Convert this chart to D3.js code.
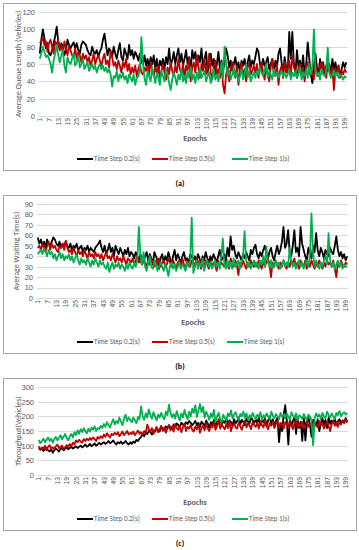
<!DOCTYPE html>
<html><head><meta charset="utf-8">
<script src="https://cdn.jsdelivr.net/npm/d3@7"></script>
<style>
html,body{margin:0;padding:0;background:#fff;}
svg{display:block;font-family:Carlito,'Liberation Sans Narrow','Liberation Sans',Arial,sans-serif;}
</style></head><body>
<svg id="c" width="359" height="550"></svg>
<script>
// ---------- DATA ----------
const epochs = d3.range(1, 201);
const tickLabels = epochs.filter(e => (e - 1) % 6 === 0);
const seriesNames = ["Time Step 0.2(s)", "Time Step 0.5(s)", "Time Step 1(s)"];
const seriesColors = ["#000000", "#c00000", "#00b050"];

const queueTicks = [0, 20, 40, 60, 80, 100, 120];
const waitTicks = [0, 10, 20, 30, 40, 50, 60, 70, 80, 90];
const throughTicks = [0, 50, 100, 150, 200, 250, 300];

// (a) Average Queue Length
const queue02 = [72,88,100,90,78,84,72,70,76,84,92,103,86,76,84,80,70,76,88,82,
78,82,85,78,84,76,72,82,86,84,82,76,72,70,80,74,72,76,68,74,
78,88,95,82,70,78,74,68,80,72,66,76,84,68,64,78,72,66,82,70,
76,66,74,70,64,72,62,60,70,58,66,56,68,60,70,54,66,50,64,58,
66,54,68,60,78,58,64,74,60,70,78,62,72,58,66,76,60,68,54,76,
66,74,58,70,62,78,56,66,74,50,62,72,58,66,48,60,74,54,64,52,
62,78,70,56,64,52,60,68,54,62,50,64,58,66,54,62,70,56,64,60,
68,78,74,60,52,66,58,62,68,54,60,66,50,64,56,72,78,62,48,68,
56,50,97,66,97,60,48,76,56,64,52,70,48,60,85,66,48,38,58,72,
56,48,66,52,62,46,58,52,60,48,66,54,62,50,58,46,54,62,56,62];
const queue05 = [84,86,90,82,86,74,84,88,80,72,86,82,88,76,82,72,86,78,70,80,
76,70,68,78,66,74,70,62,72,66,70,62,68,58,64,72,60,66,70,64,
58,66,72,60,64,56,76,68,58,62,54,64,58,50,62,56,66,52,60,48,
56,50,58,46,54,60,50,48,56,52,58,48,62,54,46,56,50,58,44,52,
60,50,42,56,48,62,52,46,58,50,66,54,48,60,44,58,52,66,40,56,
62,50,70,56,44,60,52,66,48,56,72,50,42,58,64,48,54,44,58,36,
26,48,56,40,54,62,50,44,58,36,52,60,46,54,40,56,62,48,52,58,
50,60,44,56,62,50,42,58,48,40,56,66,50,46,60,36,52,58,44,62,
50,56,64,46,70,58,52,44,56,60,48,54,40,58,62,48,56,50,42,60,
52,46,58,62,50,56,44,60,52,48,56,30,54,50,58,44,52,48,54,50];
const queue1 = [66,72,80,74,68,70,66,60,50,64,72,82,70,62,70,76,58,50,68,62,
60,66,72,58,62,70,56,60,66,54,58,62,52,56,60,54,58,50,56,60,
54,58,52,56,50,54,48,34,46,44,52,40,48,44,50,42,46,38,48,44,
40,48,36,44,46,54,91,60,44,36,52,46,40,56,48,38,50,44,36,52,
46,40,54,48,38,30,42,50,44,36,48,42,54,40,46,38,52,44,56,42,
48,38,50,42,56,44,48,52,40,46,50,38,44,54,42,48,40,50,62,44,
80,60,46,52,42,48,56,44,50,40,46,54,42,48,60,44,52,40,46,50,
44,52,48,56,50,46,54,60,44,52,48,42,54,46,50,44,48,52,46,50,
44,48,54,42,50,46,52,44,48,56,42,50,46,54,44,60,48,56,100,52,
46,50,42,54,48,46,52,79,50,44,48,52,46,50,44,48,46,42,46,44];

// (b) Average Waiting Time
const wait02 = [58,52,56,50,54,48,56,52,50,54,58,56,52,50,54,48,52,50,54,50,
48,52,46,50,48,52,46,48,50,44,48,46,50,44,48,46,44,48,50,52,
55,48,44,50,42,46,52,44,48,40,50,46,42,48,44,40,46,42,48,40,
44,42,38,44,40,36,42,38,34,40,44,36,42,38,32,44,40,36,28,38,
42,34,40,36,44,38,32,40,46,36,42,38,34,40,44,36,38,32,42,40,
36,40,34,42,38,32,40,36,44,38,34,40,36,42,38,34,40,46,36,38,
42,36,48,40,59,46,50,42,38,44,40,36,42,38,44,40,36,46,42,48,
51,42,38,44,40,46,50,42,38,44,48,40,36,44,50,42,46,54,68,48,
52,65,44,40,50,65,44,48,40,68,52,46,40,36,48,42,38,50,44,62,
46,40,48,44,38,46,42,40,48,44,42,50,59,46,40,44,38,42,36,40];
const wait05 = [48,50,46,52,48,44,50,54,46,52,48,50,46,44,50,48,52,46,55,48,
44,46,42,48,44,40,46,42,44,40,46,42,38,44,40,42,38,44,40,42,
38,42,36,40,44,38,40,36,42,38,34,40,36,38,34,40,36,32,38,36,
34,38,32,36,40,34,36,32,38,34,30,36,32,38,34,30,36,32,38,30,
34,36,30,32,38,34,30,36,32,28,34,36,30,38,32,28,36,34,30,36,
34,30,38,32,36,28,34,30,36,32,28,36,30,34,32,26,36,30,34,32,
30,36,32,28,38,34,30,36,32,22,34,30,36,32,28,34,30,36,32,30,
34,30,36,32,28,36,30,34,38,32,20,34,30,36,32,28,34,30,36,32,
28,34,30,36,32,38,30,34,28,36,32,30,36,28,34,30,36,32,28,34,
30,36,32,28,34,30,36,32,34,30,36,28,20,34,30,36,32,30,34,32];
const wait1 = [42,44,46,42,48,44,40,46,42,44,38,42,36,40,44,38,42,36,40,38,
42,36,40,34,38,42,36,32,38,34,36,32,38,34,30,36,32,38,34,30,
36,32,34,30,28,34,25,30,34,28,32,30,34,28,32,30,26,32,28,34,
30,28,34,30,36,68,40,32,44,30,26,34,40,30,28,36,32,26,30,34,
30,26,32,28,21,30,34,28,32,26,30,34,28,32,30,26,34,30,36,77,
24,30,36,28,34,30,38,26,32,36,30,34,28,32,36,30,34,28,40,57,
32,28,36,30,34,28,38,30,32,36,28,34,40,64,36,30,34,28,32,36,
30,34,28,36,32,40,30,49,34,30,36,28,32,36,30,34,28,32,36,30,
34,30,48,36,30,34,28,32,36,30,34,28,32,36,30,40,81,44,30,36,
32,28,34,30,36,40,32,62,36,30,34,28,32,36,30,34,28,32,30,30];

// (c) Throughput
const through02 = [92,86,90,82,88,92,84,80,88,76,84,90,86,80,88,92,84,90,94,88,
92,96,90,94,98,92,96,100,94,98,104,96,100,106,98,102,108,100,104,110,
104,108,112,106,110,116,108,112,118,110,104,112,108,114,106,110,116,108,104,112,
106,114,110,120,116,124,130,138,132,144,140,150,146,138,152,148,160,154,148,164,
158,152,166,160,170,162,156,172,166,176,170,164,178,172,168,180,174,184,178,170,
176,184,170,178,164,182,174,168,186,176,160,180,172,188,166,182,176,190,170,184,
178,194,172,186,180,168,190,176,184,196,174,188,180,170,192,182,176,198,186,178,
190,176,196,170,188,180,194,166,186,200,172,190,168,184,196,112,176,150,204,238,
186,104,192,168,184,198,140,190,160,182,116,194,118,176,196,170,130,188,180,168,
190,150,176,194,172,188,160,196,174,186,178,192,170,184,190,176,186,180,194,182];
const through05 = [98,86,94,90,100,84,96,102,90,94,88,98,104,92,96,100,88,94,102,96,
106,98,110,104,118,112,120,114,110,122,116,124,118,126,120,128,122,116,130,124,
132,126,138,130,142,134,128,140,136,144,138,146,132,140,148,136,142,150,138,144,
140,148,136,144,152,140,146,138,150,144,172,156,148,160,140,152,164,146,156,168,
150,162,144,158,170,152,166,148,174,160,154,168,146,162,176,150,164,158,170,154,
148,166,156,172,144,160,168,152,176,158,150,170,162,180,154,166,190,158,172,164,
156,174,160,182,150,168,176,162,158,180,166,154,172,186,162,176,168,156,182,170,
164,178,158,184,170,162,190,166,156,176,168,182,160,174,186,162,178,170,158,180,
172,164,184,168,156,178,190,162,174,166,180,158,172,186,164,176,168,154,178,170,
162,184,170,176,158,172,180,166,150,174,184,168,178,164,180,172,186,176,190,178];
const through1 = [120,108,116,124,112,120,128,116,124,110,122,130,118,126,136,122,130,140,126,118,
132,140,128,146,136,152,140,156,146,160,150,142,158,148,162,154,166,150,160,156,
168,160,174,164,180,170,162,178,190,172,184,176,196,182,170,192,206,184,196,188,
180,196,186,176,198,190,234,200,188,210,196,224,204,192,214,200,186,206,196,212,
198,190,216,204,240,212,196,208,192,218,200,186,210,196,222,204,190,216,200,226,
212,238,198,220,242,214,232,196,216,204,188,210,196,222,180,200,212,190,178,206,
194,186,210,200,220,192,206,214,198,186,208,200,216,194,210,188,204,196,212,200,
190,206,198,214,186,204,196,210,200,188,216,202,194,208,200,190,212,198,206,194,
210,200,188,214,202,196,210,186,204,198,192,208,196,188,206,200,184,102,194,210,
198,206,190,212,200,194,216,204,196,210,200,190,212,204,218,200,208,214,206,212];

// ---------- DRAW ----------
const svg = d3.select("#c");

function drawPanel(cfg) {
  const g = svg.append("g");
  g.append("rect").attr("x", cfg.box[0] + 0.5).attr("y", cfg.box[1] + 0.5)
    .attr("width", cfg.box[2] - cfg.box[0]).attr("height", cfg.box[3] - cfg.box[1])
    .attr("fill", "#fff").attr("stroke", "#a6a6a6").attr("stroke-width", 1);

  const x = d3.scalePoint().domain(epochs).range([cfg.plot[0], cfg.plot[1]]).padding(0.5);
  const y = d3.scaleLinear().domain(cfg.domain).range([cfg.plot[3], cfg.plot[2]]);

  g.append("g").selectAll("line").data(cfg.ticks).join("line")
    .attr("x1", cfg.plot[0]).attr("x2", cfg.plot[1])
    .attr("y1", d => Math.round(y(d)) + 0.5).attr("y2", d => Math.round(y(d)) + 0.5)
    .attr("stroke", "#d9d9d9").attr("stroke-width", 1);

  const yAx = d3.axisLeft(y).tickValues(cfg.ticks).tickSize(0).tickPadding(0);
  const ya = g.append("g").attr("transform", `translate(${cfg.plot[0] - 4},0)`).call(yAx);
  ya.select(".domain").remove();
  ya.selectAll("text").attr("fill", "#595959").style("font-size", "7.5px").style("font-family", null);

  const xAx = d3.axisBottom(x).tickValues(tickLabels).tickSize(0).tickPadding(0);
  const xa = g.append("g").attr("transform", `translate(0,${cfg.plot[3] + 2})`).call(xAx);
  xa.select(".domain").remove();
  xa.selectAll("text").attr("fill", "#595959").style("font-size", "6.8px").style("font-family", null)
    .attr("text-anchor", "end").attr("dy", "0.32em").attr("dx", 0).attr("y", 0)
    .attr("transform", "rotate(-90)").attr("x", 0);

  g.append("text").attr("transform", `translate(${cfg.ytitleX},${(cfg.plot[2] + cfg.plot[3]) / 2}) rotate(-90)`)
    .attr("text-anchor", "middle").attr("dy", "0.35em")
    .attr("fill", "#595959").style("font-size", "8px").text(cfg.ytitle);

  g.append("text").attr("x", cfg.epochsX).attr("y", cfg.epochsY).attr("text-anchor", "middle")
    .attr("dy", "0.35em").attr("fill", "#595959").style("font-size", "8px").style("font-weight", "bold").text("Epochs");

  const line = d3.line().x((d, i) => x(epochs[i])).y(d => y(d));
  cfg.series.forEach((s, k) => {
    g.append("path").datum(s).attr("d", line).attr("fill", "none")
      .attr("stroke", seriesColors[k]).attr("stroke-width", 1.8).attr("stroke-linejoin", "round");
  });

  cfg.legendX.forEach((lx, k) => {
    g.append("line").attr("x1", lx).attr("x2", lx + 16).attr("y1", cfg.legendY).attr("y2", cfg.legendY)
      .attr("stroke", seriesColors[k]).attr("stroke-width", 2);
    g.append("text").attr("x", lx + 17).attr("y", cfg.legendY).attr("dy", "0.35em")
      .attr("fill", "#595959").style("font-size", "7px").text(seriesNames[k]);
  });

  svg.append("text").attr("x", 180).attr("y", cfg.captionY).attr("text-anchor", "middle").attr("dy", "0.35em")
    .attr("fill", "#000").style("font-size", "8px").style("font-weight", "bold").text(cfg.caption);
}

drawPanel({
  box: [3, 3, 355, 170], plot: [39, 347, 12, 116], domain: [0, 120], ticks: queueTicks,
  ytitle: "Average Queue Length (Vehicles)", ytitleX: 18, epochsX: 195, epochsY: 138,
  legendY: 159, legendX: [77, 152, 232], caption: "(a)", captionY: 183,
  series: [queue02, queue05, queue1]
});
drawPanel({
  box: [3, 195, 356, 353], plot: [37, 348, 204, 298], domain: [0, 90], ticks: waitTicks,
  ytitle: "Average Waiting Time(s)", ytitleX: 16, epochsX: 193, epochsY: 322,
  legendY: 342, legendX: [77, 152, 227], caption: "(b)", captionY: 366,
  series: [wait02, wait05, wait1]
});
drawPanel({
  box: [3, 378, 356, 530], plot: [38, 348, 387, 475], domain: [0, 300], ticks: throughTicks,
  ytitle: "Throughput(Vehicles)", ytitleX: 18, epochsX: 195, epochsY: 502,
  legendY: 519, legendX: [77, 152, 232], caption: "(c)", captionY: 543,
  series: [through02, through05, through1]
});
</script>
</body></html>
